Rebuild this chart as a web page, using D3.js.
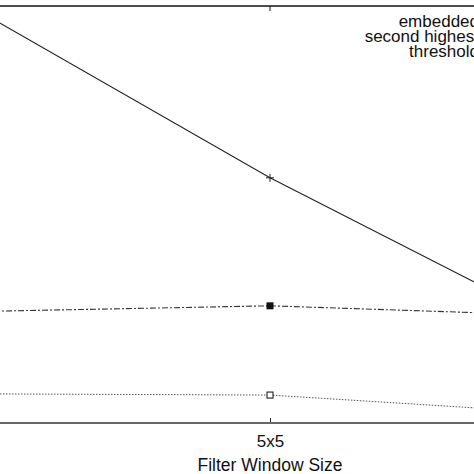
<!DOCTYPE html>
<html>
<head>
<meta charset="utf-8">
<script src="https://cdn.jsdelivr.net/npm/d3@7"></script>
<style>
  body { margin: 0; background: #fff; }
  svg { display: block; font-family: "Liberation Sans", Arial, sans-serif; }
</style>
</head>
<body>
<div id="container"></div>
<script>
/* DATA */
const windowSizes = ["3x3", "5x5", "7x7"];
const embedded = [100, 58.8, 22.1];
const secondHighest = [26.7, 28.1, 25.7];
const threshold = [7.0, 6.7, 2.2];
const seriesNames = ["embedded", "second highest", "threshold"];
const shownTicks = ["5x5"];

/* CONSTANTS */
const width = 474, height = 474;
const plotTop = 6, plotBottom = 423;

const svg = d3.select("#container")
  .append("svg")
  .attr("width", width)
  .attr("height", height)

// plot is cropped on both sides, 3x3 and 7x7 sit outside the view
const xScale = d3.scalePoint()
  .domain(windowSizes)
  .range([-30, 570])

const yScale = d3.scaleLinear()
  .domain([0, 100])
  .range([plotBottom, plotTop])

// top frame with mirrored tick
svg.append("line")
  .attr("x1", 0).attr("x2", width)
  .attr("y1", plotTop).attr("y2", plotTop)
  .attr("stroke", "#111")
  .attr("stroke-width", 1.5)

svg.selectAll("line.toptick")
  .data(shownTicks)
  .join("line")
  .attr("class", "toptick")
  .attr("x1", d => xScale(d)).attr("x2", d => xScale(d))
  .attr("y1", plotTop).attr("y2", plotTop + 5)
  .attr("stroke", "#111")

// bottom axis
const xAxis = d3.axisBottom(xScale)
  .tickValues(shownTicks)
  .tickSizeInner(-5)
  .tickSizeOuter(0)
  .tickPadding(12)

const gx = svg.append("g")
  .attr("transform", `translate(0,${plotBottom})`)
  .call(xAxis)

gx.select(".domain").remove()
gx.append("line")
  .attr("x1", 0).attr("x2", width)
  .attr("stroke", "#666")
  .attr("stroke-width", 2.2)
gx.selectAll(".tick line").attr("stroke", "#222")
gx.selectAll(".tick text")
  .attr("fill", "#111")
  .style("font-size", "17px")
  .style("font-family", "Liberation Sans, Arial, sans-serif")

svg.append("text")
  .attr("x", 270)
  .attr("y", 471)
  .attr("text-anchor", "middle")
  .attr("fill", "#111")
  .style("font-size", "17.5px")
  .text("Filter Window Size")

/* LINES */
const series = [
  { name: "embedded", values: embedded, dash: null, color: "#222", width: 1.1 },
  { name: "second highest", values: secondHighest, dash: "6,2,2,2", color: "#333", width: 1.1 },
  { name: "threshold", values: threshold, dash: "1.5,1.5", color: "#555", width: 1 }
]

const line = d3.line()
  .x((d, i) => xScale(windowSizes[i]))
  .y(d => yScale(d))

svg.selectAll("path.series")
  .data(series)
  .join("path")
  .attr("class", "series")
  .attr("fill", "none")
  .attr("stroke", d => d.color)
  .attr("stroke-width", d => d.width)
  .attr("stroke-dasharray", d => d.dash)
  .attr("d", d => line(d.values))

// markers
const pts = windowSizes.map((w, i) => ({ w, i }))

svg.selectAll("path.plus")
  .data(pts)
  .join("path")
  .attr("class", "plus")
  .attr("d", d => {
    const x = xScale(d.w), y = yScale(embedded[d.i])
    return `M${x - 4},${y}H${x + 4}M${x},${y - 4}V${y + 4}`
  })
  .attr("stroke", "#222")
  .attr("stroke-width", 1)

svg.selectAll("rect.filled")
  .data(pts)
  .join("rect")
  .attr("class", "filled")
  .attr("x", d => xScale(d.w) - 3.5)
  .attr("y", d => yScale(secondHighest[d.i]) - 3.5)
  .attr("width", 7).attr("height", 7)
  .attr("fill", "#111")

svg.selectAll("rect.open")
  .data(pts)
  .join("rect")
  .attr("class", "open")
  .attr("x", d => xScale(d.w) - 3)
  .attr("y", d => yScale(threshold[d.i]) - 3)
  .attr("width", 6).attr("height", 6)
  .attr("fill", "#fff")
  .attr("stroke", "#222")
  .attr("stroke-width", 1.1)

/* LEGEND (cut at right edge) */
svg.selectAll("text.legend")
  .data(seriesNames)
  .join("text")
  .attr("class", "legend")
  .attr("x", 479)
  .attr("y", (d, i) => 27 + i * 15)
  .attr("text-anchor", "end")
  .attr("fill", "#111")
  .style("font-size", "17px")
  .text(d => d)
</script>
</body>
</html>
